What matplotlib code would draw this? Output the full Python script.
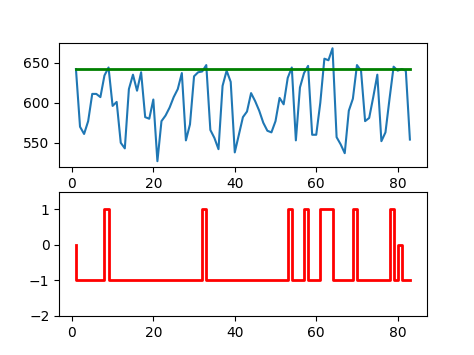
import numpy as np
import matplotlib.pyplot as plt

# Series
x = np.arange(1, 84)
values = [642, 570, 561, 577, 611, 611, 607, 634, 644, 596,
          601, 550, 543, 617, 635, 615, 638, 582, 580, 604,
          527, 577, 584, 594, 607, 617, 637, 553, 573, 633,
          638, 639, 647, 566, 556, 542, 621, 640, 626, 538,
          560, 582, 589, 612, 602, 590, 575, 565, 563, 577,
          606, 598, 631, 644, 553, 619, 637, 646, 560, 560,
          600, 655, 653, 668, 557, 548, 537, 590, 605, 647,
          640, 577, 581, 607, 635, 552, 563, 605, 645, 640,
          642, 640, 554]
threshold = [642] * len(x)
signal = [0, -1, -1, -1, -1, -1, -1, -1, 1, -1,
          -1, -1, -1, -1, -1, -1, -1, -1, -1, -1,
          -1, -1, -1, -1, -1, -1, -1, -1, -1, -1,
          -1, -1, 1, -1, -1, -1, -1, -1, -1, -1,
          -1, -1, -1, -1, -1, -1, -1, -1, -1, -1,
          -1, -1, -1, 1, -1, -1, -1, 1, -1, -1,
          -1, 1, 1, 1, -1, -1, -1, -1, -1, 1,
          -1, -1, -1, -1, -1, -1, -1, -1, 1, -1,
          0, -1, -1]

fig, (ax1, ax2) = plt.subplots(2, 1, figsize=(4.74, 3.55), dpi=100)

ax1.plot(x, values)
ax1.plot(x, threshold, color="g", linewidth=2)

ax2.step(x, signal, color="r", linewidth=2)
ax2.set_ylim(-2, 1.5)
ax2.set_yticks([-2, -1, 0, 1])

plt.savefig("out.png")
